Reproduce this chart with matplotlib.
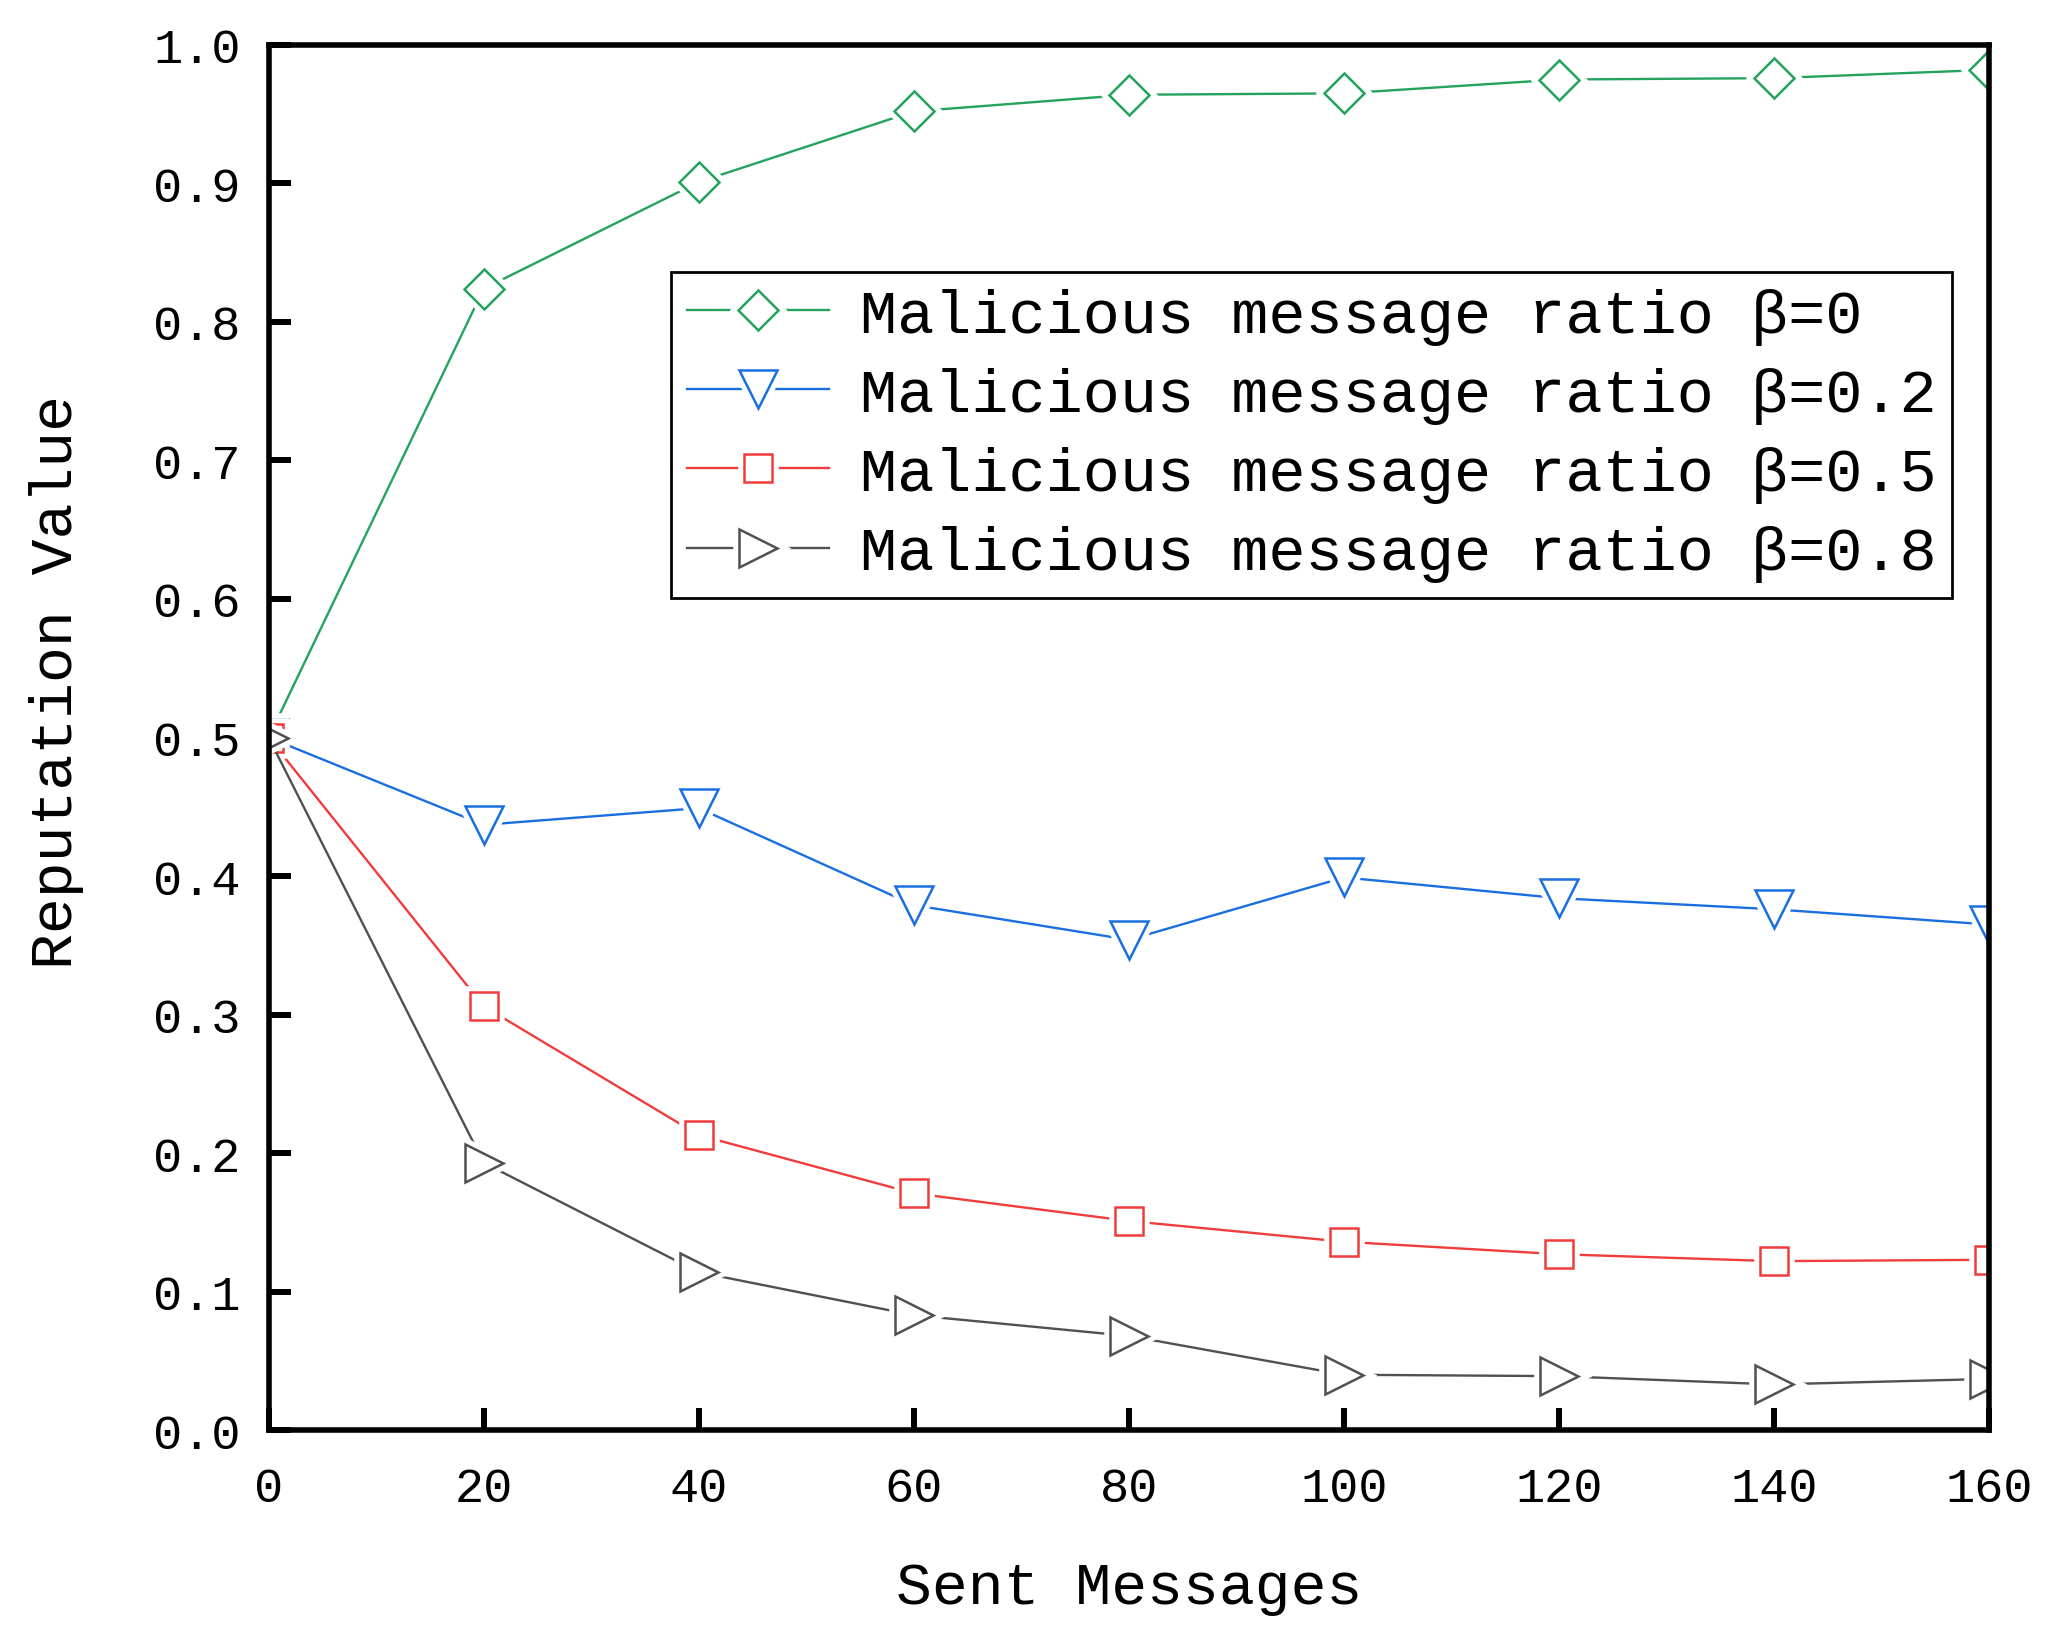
"""
Reputation value vs. sent messages for different malicious message ratios.
"""

import matplotlib
matplotlib.use("Agg")
import matplotlib.pyplot as plt
from matplotlib.legend_handler import HandlerTuple

# data
sent = [0, 20, 40, 60, 80, 100, 120, 140, 160]
rep_b00 = [0.500, 0.824, 0.901, 0.952, 0.964, 0.965, 0.975, 0.976, 0.982]
rep_b02 = [0.500, 0.437, 0.449, 0.379, 0.354, 0.399, 0.384, 0.376, 0.365]
rep_b05 = [0.500, 0.306, 0.213, 0.171, 0.151, 0.136, 0.127, 0.122, 0.123]
rep_b08 = [0.500, 0.193, 0.114, 0.083, 0.068, 0.040, 0.039, 0.033, 0.037]

labels = [
    "Malicious message ratio β=0",
    "Malicious message ratio β=0.2",
    "Malicious message ratio β=0.5",
    "Malicious message ratio β=0.8",
]
x_ticks = [0, 20, 40, 60, 80, 100, 120, 140, 160]
y_ticks = [0.0, 0.1, 0.2, 0.3, 0.4, 0.5, 0.6, 0.7, 0.8, 0.9, 1.0]


def main():
    plt.rcParams["font.family"] = ["Liberation Mono", "DejaVu Sans Mono"]

    fig = plt.figure(figsize=(20.55, 16.33), dpi=100)
    ax = fig.add_axes([0.1307, 0.1236, 0.8374, 0.8483])

    series = [
        (rep_b00, "#23a35c", "D", 20),
        (rep_b02, "#1a6fe0", "v", 27),
        (rep_b05, "#f03c3c", "s", 20),
        (rep_b08, "#505050", ">", 27),
    ]

    handles = []
    for (vals, color, marker, ms), lab in zip(series, labels):
        # line with a white halo around each marker (gap like Origin)
        ln, = ax.plot(sent, vals, color=color, lw=1.7, marker=marker, ms=ms,
                      mfc="white", mec="white", mew=9)
        mk, = ax.plot(sent, vals, ls="none", marker=marker, ms=ms,
                      mfc="white", mec=color, mew=1.8)
        handles.append((ln, mk))

    ax.set_xlim(0, 160)
    ax.set_ylim(0, 1.0)
    ax.set_xticks(x_ticks)
    ax.set_yticks(y_ticks)
    ax.set_xticklabels([str(v) for v in x_ticks])
    ax.set_yticklabels([f"{v:.1f}" for v in y_ticks])

    for s in ax.spines.values():
        s.set_linewidth(4)
    ax.tick_params(direction="in", length=16, width=4.3, labelsize=35,
                   top=False, right=False)
    ax.tick_params(axis="y", pad=20)
    ax.tick_params(axis="x", pad=26)

    ax.set_xlabel("Sent Messages", fontsize=43)
    ax.set_ylabel("Reputation Value", fontsize=43)
    ax.xaxis.set_label_coords(0.5, -0.094)
    ax.yaxis.set_label_coords(-0.107, 0.541)

    leg = ax.legend(handles, labels,
                    handler_map={tuple: HandlerTuple(ndivide=1, pad=0)},
                    loc="upper left", bbox_to_anchor=(0.234, 0.836),
                    borderaxespad=0, fontsize=44.6, handlelength=2.3,
                    handletextpad=0.5, labelspacing=0.36, borderpad=0.25,
                    fancybox=False, framealpha=1, edgecolor="black")
    leg.get_frame().set_linewidth(2)

    fig.savefig("out.png", dpi=100)


if __name__ == "__main__":
    main()
